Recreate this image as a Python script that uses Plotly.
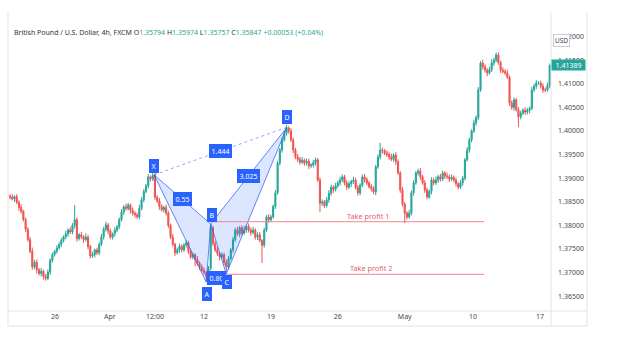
import plotly.graph_objects as go

# ---------------- data (pips above 1.3000, 4h bars) ----------------
first_open = 862
closes_pips = [
    860, 856, 861, 849, 838, 830, 812, 792, 770, 745,
    712, 722, 706, 698, 703, 692, 688, 701, 726, 738,
    745, 752, 760, 768, 776, 782, 790, 786, 800, 812,
    772, 780, 776, 770, 775, 755, 735, 738, 748, 742,
    760, 776, 792, 801, 788, 775, 782, 790, 797, 812,
    828, 839, 836, 843, 832, 826, 822, 818, 836, 854,
    872, 884, 903, 898, 906, 860, 852, 840, 833, 838,
    826, 800, 775, 760, 742, 748, 756, 748, 758, 763,
    745, 733, 738, 728, 720, 712, 705, 700, 692, 710,
    795, 762, 748, 740, 733, 738, 722, 712, 730, 748,
    770, 790, 782, 795, 784, 790, 798, 790, 785, 790,
    775, 780, 768, 758, 790, 818, 812, 818, 840, 869,
    932, 960, 981, 995, 1006, 1000, 981, 960, 945, 940,
    934, 938, 932, 936, 926, 928, 933, 939, 896, 847,
    850, 842, 854, 868, 881, 876, 884, 890, 896, 903,
    890, 881, 888, 893, 896, 880, 869, 885, 903, 897,
    890, 882, 878, 871, 924, 945, 960, 958, 953, 950,
    945, 940, 949, 935, 911, 875, 845, 826, 818, 826,
    869, 890, 911, 915, 903, 890, 875, 860, 872, 896,
    890, 896, 903, 898, 911, 905, 903, 898, 902, 896,
    888, 881, 890, 900, 939, 960, 981, 1000, 1017, 1028,
    1087, 1144, 1136, 1129, 1123, 1130, 1144, 1150, 1161, 1145,
    1129, 1126, 1123, 1114, 1059, 1050, 1066, 1045, 1030, 1038,
    1044, 1040, 1044, 1048, 1087, 1095, 1102, 1102, 1095, 1087,
    1087, 1096, 1139,
]
upper_wick_pips = [
    4, 6, 3, 5, 4, 7, 3, 5, 4, 6,
    8, 5, 6, 4, 7, 3, 5, 6, 4, 5,
    3, 6, 4, 5, 3, 7, 4, 6, 5, 31,
    5, 4, 6, 3, 8, 5, 4, 6, 3, 5,
    4, 6, 5, 7, 4, 5, 3, 6, 4, 5,
    6, 4, 7, 5, 3, 6, 4, 5, 8, 6,
    5, 4, 6, 3, 5, 7, 4, 6, 5, 4,
    6, 5, 4, 7, 3, 5, 6, 4, 5, 6,
    4, 6, 5, 3, 7, 4, 5, 6, 4, 4,
    8, 4, 6, 7, 3, 5, 4, 6, 5, 4,
    6, 5, 7, 4, 5, 8, 4, 6, 5, 7,
    4, 5, 6, 3, 5, 4, 6, 5, 4, 6,
    5, 4, 6, 5, 7, 4, 6, 5, 4, 6,
    5, 7, 4, 6, 5, 4, 6, 5, 4, 6,
    5, 4, 6, 7, 5, 4, 6, 5, 7, 5,
    4, 6, 5, 4, 7, 5, 6, 4, 5, 6,
    5, 4, 6, 5, 4, 6, 15, 5, 4, 6,
    5, 7, 4, 6, 5, 4, 6, 5, 4, 7,
    5, 6, 4, 5, 7, 4, 6, 5, 4, 6,
    5, 8, 4, 6, 5, 4, 7, 5, 6, 4,
    5, 4, 6, 5, 4, 6, 5, 4, 7, 5,
    6, 4, 7, 5, 4, 6, 8, 5, 5, 6,
    4, 6, 5, 7, 4, 6, 5, 4, 6, 5,
    4, 6, 5, 4, 7, 5, 6, 4, 5, 6,
    5, 7, 4,
]
lower_wick_pips = [
    5, 3, 6, 4, 7, 5, 4, 6, 5, 4,
    6, 5, 8, 4, 6, 7, 5, 4, 6, 5,
    4, 5, 3, 6, 4, 5, 6, 4, 5, 7,
    6, 4, 5, 7, 4, 6, 5, 4, 6, 5,
    5, 4, 6, 5, 7, 4, 5, 6, 4, 5,
    4, 6, 5, 4, 7, 5, 6, 4, 5, 4,
    5, 4, 6, 5, 4, 6, 5, 7, 4, 6,
    5, 6, 4, 5, 7, 4, 6, 5, 4, 5,
    6, 4, 5, 15, 5, 6, 4, 5, 11, 4,
    5, 6, 4, 5, 7, 4, 6, 11, 5, 4,
    6, 5, 4, 7, 5, 4, 6, 5, 7, 4,
    5, 6, 4, 38, 5, 4, 6, 5, 4, 5,
    4, 5, 6, 4, 5, 6, 4, 7, 5, 6,
    5, 4, 6, 5, 7, 4, 5, 6, 4, 19,
    6, 5, 4, 6, 5, 7, 4, 5, 6, 4,
    5, 6, 4, 7, 5, 4, 6, 5, 4, 6,
    5, 4, 6, 5, 7, 4, 5, 6, 4, 5,
    6, 4, 5, 7, 4, 6, 5, 21, 5, 4,
    5, 6, 4, 5, 7, 4, 6, 5, 4, 6,
    5, 4, 6, 5, 4, 7, 5, 6, 4, 5,
    6, 5, 4, 6, 5, 4, 6, 5, 4, 6,
    5, 4, 6, 5, 7, 4, 5, 6, 4, 5,
    6, 4, 5, 4, 6, 5, 7, 4, 22, 5,
    4, 6, 5, 7, 4, 5, 6, 4, 5, 6,
    5, 4, 6,
]

x_tick_pos = [20.2, 44.8, 65, 87, 117, 147, 177, 207.6, 237.7]
x_tick_text = ["26", "Apr", "12:00", "12", "19", "26", "May", "10", "17"]
y_ticks = [1.365, 1.370, 1.375, 1.380, 1.385, 1.390, 1.395, 1.400, 1.405, 1.410, 1.415, 1.420]

pattern_names = ["X", "A", "B", "C", "D"]
pattern_bar = [64.6, 88.0, 90.0, 97.0, 124.2]
pattern_price = [1.3907, 1.3680, 1.3803, 1.3697, 1.4008]
ratio_text = {"XB": "0.55", "AC": "0.80", "BD": "3.025", "XD": "1.444"}

tp_names = ["Take profit 1", "Take profit 2"]
tp_price = [1.38078, 1.36964]
tp_start = [90.0, 97.0]
tp_end = [212.6, 212.6]
tp_text_bar = [160.5, 161.8]

last_price = 1.41389
title_main = "British Pound / U.S. Dollar, 4h, FXCM"
ohlc_text = [("O", "1.35794"), ("H", "1.35974"), ("L", "1.35757"), ("C", "1.35847")]
change_text = "+0.00053 (+0.04%)"

# ---------------- build ----------------
n = min(len(closes_pips), len(upper_wick_pips), len(lower_wick_pips))
closes = [1.3 + c / 10000 for c in closes_pips[:n]]
opens = [1.3 + first_open / 10000] + closes[:-1]
highs = [max(o, c) + u / 10000 for o, c, u in zip(opens, closes, upper_wick_pips)]
lows = [min(o, c) - d / 10000 for o, c, d in zip(opens, closes, lower_wick_pips)]
xs = list(range(n))

GREEN = "#26a69a"
RED = "#ef5350"
BLUE = "#2962FF"
FONT = "Noto Sans"

fig = go.Figure()
fig.add_trace(go.Candlestick(
    x=xs, open=opens, high=highs, low=lows, close=closes,
    increasing=dict(line=dict(color=GREEN, width=1), fillcolor=GREEN),
    decreasing=dict(line=dict(color=RED, width=1), fillcolor=RED),
    whiskerwidth=0, hoverinfo="skip",
))

P = dict(zip(pattern_names, zip(pattern_bar, pattern_price)))

def tri(a, b, c):
    pts = [P[a], P[b], P[c], P[a]]
    fig.add_trace(go.Scatter(
        x=[p[0] for p in pts], y=[p[1] for p in pts], mode="lines",
        fill="toself", fillcolor="rgba(41,98,255,0.16)",
        line=dict(color="rgba(41,98,255,0.75)", width=1), hoverinfo="skip"))

tri("X", "A", "B")
tri("B", "C", "D")

for a, b in [("X", "D"), ("A", "C")]:
    fig.add_trace(go.Scatter(
        x=[P[a][0], P[b][0]], y=[P[a][1], P[b][1]], mode="lines",
        line=dict(color="rgba(41,98,255,0.55)", width=1, dash="dot"), hoverinfo="skip"))

for name, y0, x0, x1 in zip(tp_names, tp_price, tp_start, tp_end):
    fig.add_trace(go.Scatter(x=[x0, x1], y=[y0, y0], mode="lines",
                             line=dict(color="#f4838f", width=1), hoverinfo="skip"))

for name, y0, xt in zip(tp_names, tp_price, tp_text_bar):
    fig.add_annotation(x=xt, y=y0, text=name, showarrow=False, yshift=6,
                       font=dict(family=FONT, size=7.3, color="#e4606d"))

# ratio labels
for key, txt in ratio_text.items():
    a, b = key[0], key[1]
    mx = (P[a][0] + P[b][0]) / 2
    my = (P[a][1] + P[b][1]) / 2
    fig.add_annotation(x=mx, y=my, text=txt, showarrow=False, bgcolor=BLUE,
                       bordercolor=BLUE, borderpad=1.5,
                       font=dict(family=FONT, size=7, color="white"))

# point labels
shifts = {"X": (0, 9), "A": (1, -12), "B": (1, 9), "C": (1, -8), "D": (0, 10)}
for nm in pattern_names:
    dx, dy = shifts[nm]
    fig.add_annotation(x=P[nm][0], y=P[nm][1], text=nm, showarrow=False,
                       xshift=dx, yshift=dy, bgcolor=BLUE, bordercolor=BLUE,
                       borderpad=1.5, font=dict(family=FONT, size=7, color="white"))

# header
hdr = f"<span style='color:#333'>{title_main}</span>"
for k, v in ohlc_text:
    hdr += f" <span style='color:#333'>{k}</span><span style='color:{GREEN}'>{v}</span>"
hdr += f" <span style='color:{GREEN}'>{change_text}</span>"
fig.add_annotation(xref="paper", yref="paper", x=0.0074, y=0.933, xanchor="left",
                   yanchor="middle", text=hdr, showarrow=False,
                   font=dict(family=FONT, size=7, color="#333"))

# USD box and last price box
fig.add_annotation(xref="paper", yref="paper", x=1.035, y=0.926, text="USD",
                   showarrow=False, bgcolor="white", bordercolor="#c9ccd4",
                   borderwidth=1, borderpad=1, font=dict(family=FONT, size=6.5, color="#444"))
fig.add_annotation(xref="paper", yref="y", x=1.0, y=last_price, xanchor="left",
                   text=f"{last_price:.5f}", showarrow=False, bgcolor=GREEN,
                   width=33, height=10, borderpad=0,
                   font=dict(family=FONT, size=7, color="white"))

# frame
BC = "#e0e3eb"
bot = -0.0502
rgt = 1.0663
for x0, y0, x1, y1 in [(0, bot, 0, 1), (rgt, bot, rgt, 1), (1, bot, 1, 1),
                       (0, 0, rgt, 0), (0, bot, rgt, bot)]:
    fig.add_shape(type="line", xref="paper", yref="paper", x0=x0, y0=y0, x1=x1, y1=y1,
                  line=dict(color=BC, width=1))

fig.update_layout(
    width=640, height=345, margin=dict(l=8, r=89, t=12, b=34),
    paper_bgcolor="white", plot_bgcolor="white", showlegend=False,
    font=dict(family=FONT, size=7, color="#4a4a4a"),
    xaxis=dict(range=[-0.9, 242.6], showgrid=False, zeroline=False,
               rangeslider=dict(visible=False), tickmode="array",
               tickvals=x_tick_pos, ticktext=x_tick_text, ticks="",
               tickfont=dict(family=FONT, size=7, color="#4a4a4a"), showline=False),
    yaxis=dict(side="right", range=[1.361864, 1.425212], showgrid=False, zeroline=False,
               tickmode="array", tickvals=y_ticks, tickformat=".5f", ticks="",
               ticklabelstandoff=6,
               tickfont=dict(family=FONT, size=7, color="#4a4a4a"), showline=False),
)

fig.write_html("out.html")
